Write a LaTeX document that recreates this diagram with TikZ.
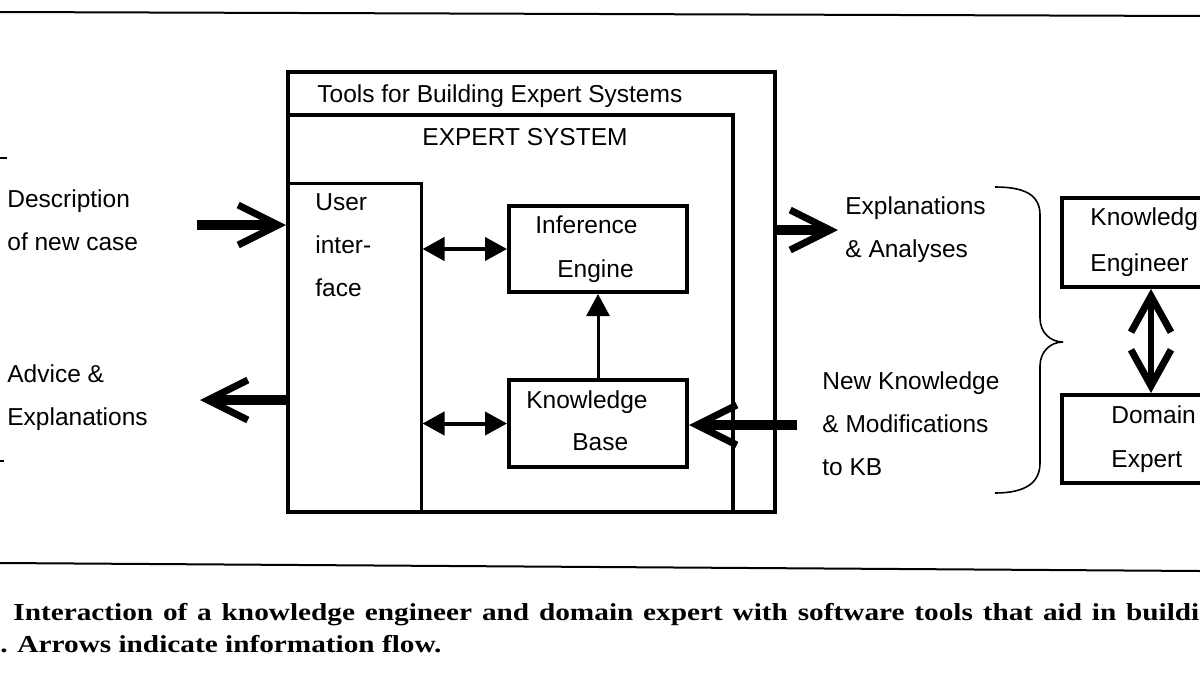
\documentclass[tikz,border=0pt]{standalone}
\usepackage{fontspec}
\setmainfont{Liberation Sans}
\newfontfamily\capfont[FakeStretch=1.2]{Liberation Serif}
\usetikzlibrary{arrows.meta}
\tikzset{
  lbl/.style={font=\fontsize{12.25}{21.5}\selectfont, inner sep=0pt, align=left, anchor=base west},
  captxt/.style={font=\capfont\bfseries\fontsize{12.2}{16}\selectfont, inner sep=0pt, anchor=base west},
  box/.style={draw, line width=2pt, inner sep=0pt},
  bigarrow/.style={line width=5pt, -{Straight Barb[length=20pt,width=20pt,line width=3.5pt]}},
  bigdouble/.style={line width=3pt, {Straight Barb[length=18pt,width=20pt,line width=3.5pt]}-{Straight Barb[length=18pt,width=20pt,line width=3.5pt]}},
  smallarrow/.style={line width=2pt, {Triangle[length=11pt,width=11.5pt]}-{Triangle[length=11pt,width=11.5pt]}},
  uparrow/.style={line width=1.5pt, -{Triangle[length=11pt,width=11.5pt]}},
  rule/.style={line width=1pt}
}
\begin{document}
\begin{tikzpicture}[x=0.5pt,y=-0.5pt]
\useasboundingbox (0,0) rectangle (1200,675);
\clip (0,0) rectangle (1200,675);
\fill[white] (0,0) rectangle (1200,675);

% rules and scan marks
\draw[rule] (0,12) -- (1200,16);
\draw[rule] (0,563) -- (1200,571);
\draw[line width=1.2pt] (0,158) -- (7,158);
\draw[line width=1pt] (0,461) -- (4,461);

% boxes
\node[box, minimum width=243.5pt, minimum height=220pt] (tools) at (531.5,292) {};
\node[box, line width=1.75pt, minimum width=222.5pt, minimum height=198.5pt] (es) at (510.5,313.5) {};
\node[box, line width=1.5pt, minimum width=66.5pt, minimum height=164.5pt] (ui) at (354.5,347.5) {};
\node[box, minimum width=89pt, minimum height=43pt] (ie) at (598,249) {};
\node[box, minimum width=89pt, minimum height=43.5pt] (kb) at (598,423.5) {};
\node[box, minimum width=89pt, minimum height=44.5pt] (ke) at (1151,242.5) {};
\node[box, minimum width=89pt, minimum height=44pt] (de) at (1151,439) {};

% labels (multi-line nodes are placed at the baseline of their last line)
\node[lbl] (toolslbl) at (317,102) {Tools for Building Expert Systems};
\node[lbl, anchor=base] (eslbl) at (525,145) {EXPERT SYSTEM};
\node[lbl] (uilbl) at (315,296) {User\\inter-\\face};
\node[lbl] (ielbl1) at (535,233) {Inference};
\node[lbl] (ielbl2) at (557,277) {Engine};
\node[lbl] (kblbl1) at (526,408) {Knowledge};
\node[lbl] (kblbl2) at (572,450) {Base};
\node[lbl] (desc) at (7,250) {Description\\of new case};
\node[lbl] (advice) at (7,425) {Advice \&\\Explanations};
\node[lbl] (expl) at (845,257) {Explanations\\\& Analyses};
\node[lbl] (newk) at (822,475) {New Knowledge\\\& Modifications\\to KB};
\node[lbl, font=\fontsize{12.25}{23}\selectfont] (kelbl) at (1090,271) {Knowledg\\Engineer};
\node[lbl, font=\fontsize{12.25}{22}\selectfont] (delbl) at (1111,467) {Domain\\Expert};

% connectors
\coordinate (descin) at (197,225);
\coordinate (advout) at (200,400);
\coordinate (explout) at (838,230);
\coordinate (nkin) at (797,425);
\draw[bigarrow] (descin) -- (descin -| tools.west);
\draw[bigarrow] (tools.west |- advout) -- (advout);
\draw[bigarrow] (tools.east |- explout) -- (explout);
\draw[bigarrow] (nkin) -- (kb.east |- nkin);
\draw[smallarrow] (ui.east |- ie) -- (ie.west);
\draw[smallarrow] (ui.east |- kb) -- (kb.west);
\draw[uparrow] (kb.north) -- (ie.south);
\draw[bigdouble] (ke.south) -- (de.north);

% brace
\draw[line width=0.8pt] (995,187) .. controls (1025,187) and (1040,195) .. (1040,215)
  -- (1040,318) .. controls (1040,332) and (1050,342) .. (1063,342)
  .. controls (1050,342) and (1040,352) .. (1040,366)
  -- (1040,463) .. controls (1040,483) and (1025,493) .. (995,493);

% caption
\node[captxt] (cap1) at (13,620) {\makebox[593pt][s]{Interaction of a knowledge engineer and domain expert with software tools that aid in buildi}};
\node[captxt] (cap2) at (0,652) {. Arrows indicate information flow.};
\end{tikzpicture}
\end{document}
